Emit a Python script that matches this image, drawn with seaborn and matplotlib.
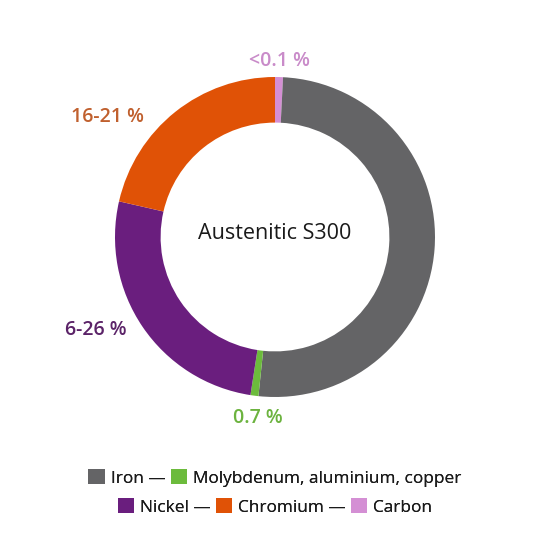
import matplotlib
matplotlib.use("Agg")
import matplotlib.pyplot as plt
import seaborn as sns
from matplotlib.patches import Patch

sns.set_theme(style="white")
plt.rcParams['font.family'] = ['Open Sans', 'DejaVu Sans']

# Data (clockwise from 12 o'clock)
elements = ["Carbon", "Iron", "Molybdenum, aluminium, copper", "Nickel", "Chromium"]
shares = [0.8, 50.8, 0.8, 26.1, 21.4]
colors = ["#d48fd4", "#646466", "#6cbb3c", "#6a1e7e", "#e05206"]
value_labels = ["<0.1 %", None, "0.7 %", "6-26 %", "16-21 %"]
label_colors = ["#c98bc9", None, "#6cb33f", "#5b2368", "#c0602e"]
label_pos = [(0.03, 1.10), None, (-0.11, -1.13), (-1.12, -0.58), (-1.05, 0.75)]
legend_rows = [["Iron", "Molybdenum, aluminium, copper"], ["Nickel", "Chromium", "Carbon"]]
center_title = "Austenitic S300"

W = 550
fig = plt.figure(figsize=(5.5, 5.5), dpi=100)
cx, cy, r = 275, 237, 160
ax = fig.add_axes([(cx - r) / W, (W - cy - r) / W, 2 * r / W, 2 * r / W])
ax.pie(shares, colors=colors, startangle=90, counterclock=False, radius=1,
       wedgeprops=dict(width=0.285, edgecolor="none"))
ax.set_xlim(-1, 1)
ax.set_ylim(-1, 1)
ax.set_aspect("equal")
ax.axis("off")

ax.text(0, 0.02, center_title, ha="center", va="center", fontsize=15.5, color="#1a1a1a")
for lab, col, pos in zip(value_labels, label_colors, label_pos):
    if lab is None:
        continue
    ax.text(pos[0], pos[1], lab, ha="center", va="center", fontsize=14,
            color=col, fontweight="semibold", clip_on=False)

cmap = dict(zip(elements, colors))
row_y = [(W - 478) / W, (W - 507) / W]
for row, y in zip(legend_rows, row_y):
    handles = [Patch(facecolor=cmap[n], edgecolor="none") for n in row]
    labels = [n + " \u2014" if i < len(row) - 1 else n for i, n in enumerate(row)]
    leg = fig.legend(handles, labels, loc="center", bbox_to_anchor=(0.5, y),
                     ncol=len(row), frameon=False, fontsize=12.4,
                     handlelength=0.95, handleheight=0.95, handletextpad=0.35,
                     columnspacing=0.3, borderpad=0)
    for t in leg.get_texts():
        t.set_color("#1a1a1a")
    fig.add_artist(leg)

fig.savefig("out.png", dpi=100, facecolor="white")
